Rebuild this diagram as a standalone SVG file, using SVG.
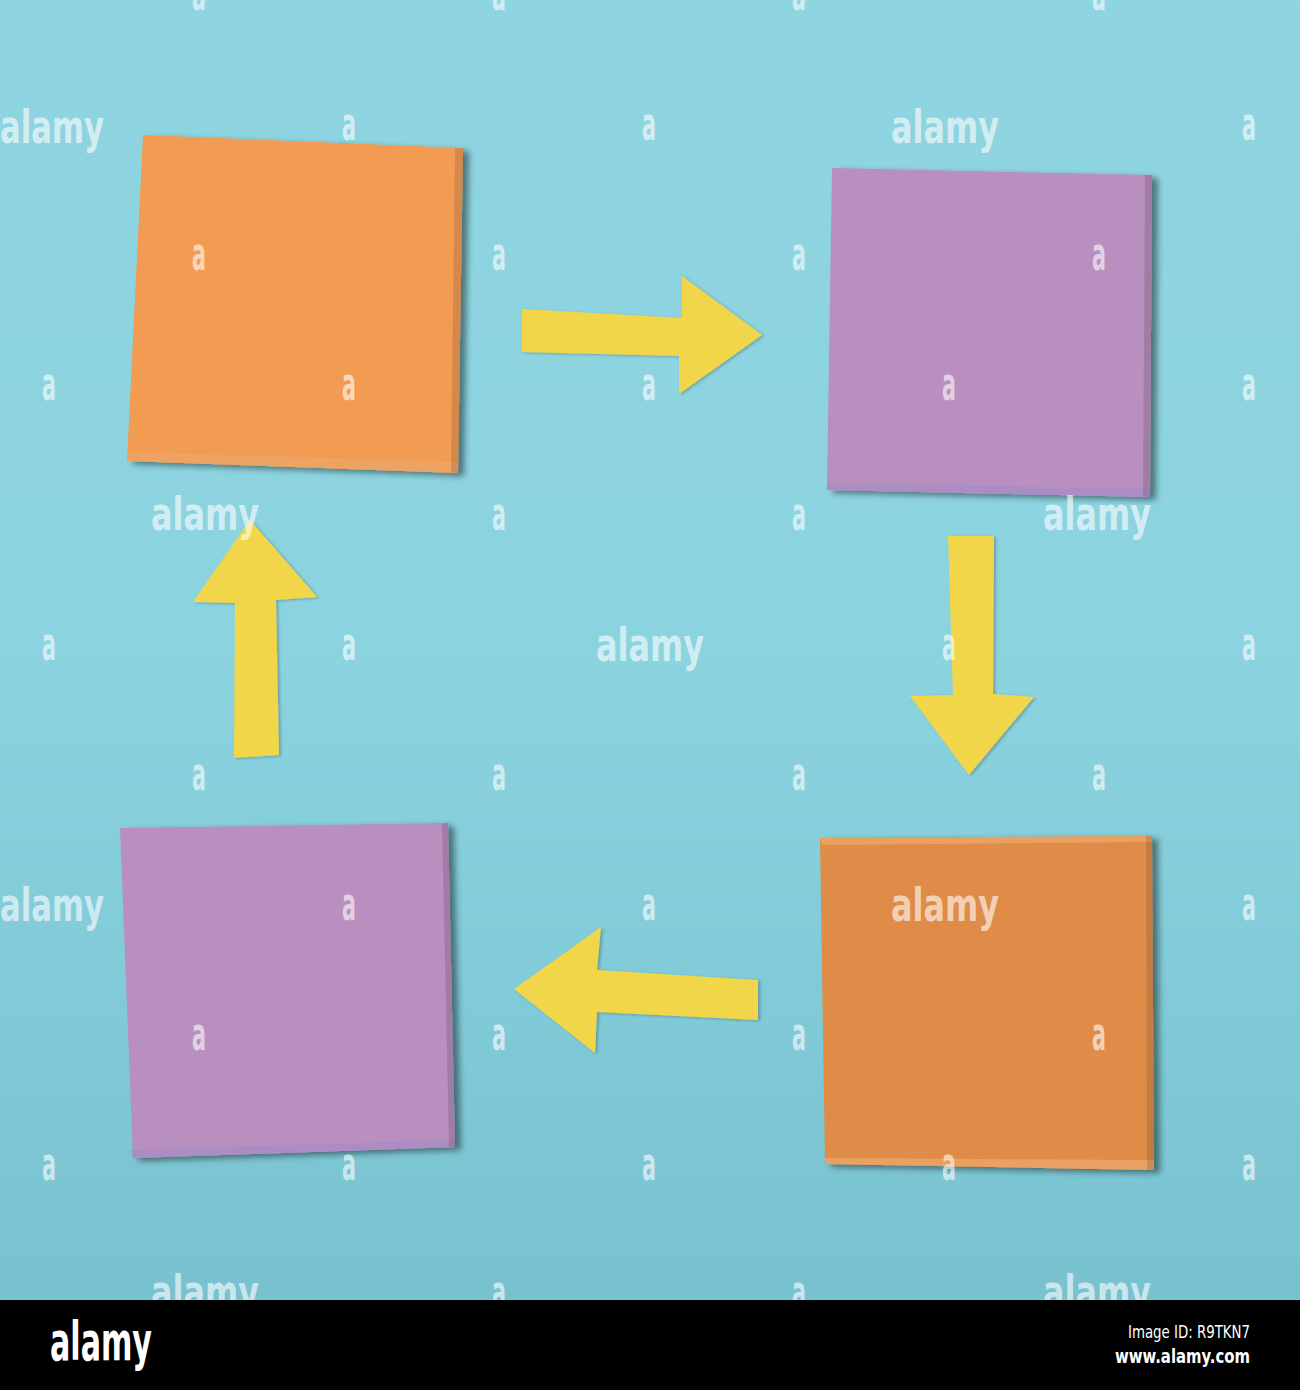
<svg xmlns="http://www.w3.org/2000/svg" width="1300" height="1390" viewBox="0 0 1300 1390">
<defs>
<linearGradient id="bg" x1="0" y1="0" x2="0" y2="1">
<stop offset="0" stop-color="#8fd5e1"/>
<stop offset="0.5" stop-color="#8bd3df"/>
<stop offset="1" stop-color="#78c2d0"/>
</linearGradient>
<filter id="sh" x="-10%" y="-10%" width="125%" height="125%">
<feGaussianBlur in="SourceAlpha" stdDeviation="3"/>
<feOffset dx="6" dy="3" result="b"/>
<feComponentTransfer><feFuncA type="linear" slope="0.45"/></feComponentTransfer>
<feMerge><feMergeNode/><feMergeNode in="SourceGraphic"/></feMerge>
</filter>
<filter id="ash" x="-10%" y="-10%" width="125%" height="125%">
<feGaussianBlur in="SourceAlpha" stdDeviation="1.5"/>
<feOffset dx="2" dy="1"/>
<feComponentTransfer><feFuncA type="linear" slope="0.25"/></feComponentTransfer>
<feMerge><feMergeNode/><feMergeNode in="SourceGraphic"/></feMerge>
</filter>
</defs>
<style>
.orange{fill:#f29b53}
.orange2{fill:#e08c48}
.purple{fill:#b88fbe}
.foldO{fill:#eba566;opacity:0.8}
.foldP{fill:#a98cc4;opacity:0.8}
.edgeDark{fill:#000;opacity:0.12}
.arrow{fill:#f1d64a}
.wm{font-family:"DejaVu Sans Condensed","DejaVu Sans","Liberation Sans",sans-serif;font-weight:bold;font-size:46px;fill:#ffffff;fill-opacity:0.62;text-anchor:middle}
.bar{font-family:"DejaVu Sans Condensed","DejaVu Sans","Liberation Sans",sans-serif;fill:#ffffff}
</style>
<rect x="0" y="0" width="1300" height="1300" fill="url(#bg)"/>

<g id="node-top-left" filter="url(#sh)">
<polygon class="orange" points="143,135 463,148 458,473 127,461"/>
<polygon class="foldO" points="128,452 458,462 458,473 127,461"/>
<polygon class="edgeDark" points="455,148 463,148 458,473 451,472"/>
</g>

<g id="node-top-right" filter="url(#sh)">
<polygon class="purple" points="832,168 1152,175 1150,497 827,490"/>
<polygon class="foldP" points="827,483 1150,489 1150,497 827,490"/>
<polygon class="edgeDark" points="1145,175 1152,175 1150,497 1143,496"/>
</g>

<g id="node-bottom-right" filter="url(#sh)">
<polygon class="orange2" points="820,838 1152,836 1154,1170 825,1164"/>
<polygon class="foldO" points="825,1158 1154,1160 1154,1170 825,1164"/>
<polygon class="foldO" points="820,838 1152,836 1152,842 822,845"/>
<polygon class="edgeDark" points="1146,836 1152,836 1154,1170 1147,1170"/>
</g>

<g id="node-bottom-left" filter="url(#sh)">
<polygon class="purple" points="120,828 448,823 455,1147 133,1158"/>
<polygon class="foldP" points="131,1150 455,1140 455,1147 133,1158"/>
<polygon class="edgeDark" points="442,823 448,823 455,1147 449,1147"/>
</g>

<g id="connectors" filter="url(#ash)">
<polygon id="arrow-right" class="arrow" points="522,309 682,318 682,276 762,335 679,394 679,356 522,352"/>
<polygon id="arrow-down" class="arrow" points="948,536 994,536 993,694 1034,697 969,775 910,696 953,695"/>
<polygon id="arrow-left" class="arrow" points="514,989 601,927 597,970 758,980 758,1020 597,1012 595,1053"/>
<polygon id="arrow-up" class="arrow" points="250,520 317,597 276,600 279,755 234,758 235,603 193,602"/>
</g>

<g id="watermarks" class="wm">
<text x="52" y="143" textLength="104" lengthAdjust="spacingAndGlyphs">alamy</text>
<text x="945" y="143" textLength="108" lengthAdjust="spacingAndGlyphs">alamy</text>
<text x="205" y="530" textLength="108" lengthAdjust="spacingAndGlyphs">alamy</text>
<text x="1097" y="530" textLength="108" lengthAdjust="spacingAndGlyphs">alamy</text>
<text x="650" y="661" textLength="108" lengthAdjust="spacingAndGlyphs">alamy</text>
<text x="52" y="921" textLength="104" lengthAdjust="spacingAndGlyphs">alamy</text>
<text x="945" y="921" textLength="108" lengthAdjust="spacingAndGlyphs">alamy</text>
<text x="205" y="1308" textLength="108" lengthAdjust="spacingAndGlyphs">alamy</text>
<text x="1097" y="1308" textLength="108" lengthAdjust="spacingAndGlyphs">alamy</text>

<text x="199" y="10" textLength="14" lengthAdjust="spacingAndGlyphs">a</text>
<text x="499" y="10" textLength="14" lengthAdjust="spacingAndGlyphs">a</text>
<text x="799" y="10" textLength="14" lengthAdjust="spacingAndGlyphs">a</text>
<text x="1099" y="10" textLength="14" lengthAdjust="spacingAndGlyphs">a</text>

<text x="349" y="140" textLength="14" lengthAdjust="spacingAndGlyphs">a</text>
<text x="649" y="140" textLength="14" lengthAdjust="spacingAndGlyphs">a</text>
<text x="1249" y="140" textLength="14" lengthAdjust="spacingAndGlyphs">a</text>

<text x="199" y="270" textLength="14" lengthAdjust="spacingAndGlyphs">a</text>
<text x="499" y="270" textLength="14" lengthAdjust="spacingAndGlyphs">a</text>
<text x="799" y="270" textLength="14" lengthAdjust="spacingAndGlyphs">a</text>
<text x="1099" y="270" textLength="14" lengthAdjust="spacingAndGlyphs">a</text>

<text x="49" y="400" textLength="14" lengthAdjust="spacingAndGlyphs">a</text>
<text x="349" y="400" textLength="14" lengthAdjust="spacingAndGlyphs">a</text>
<text x="649" y="400" textLength="14" lengthAdjust="spacingAndGlyphs">a</text>
<text x="949" y="400" textLength="14" lengthAdjust="spacingAndGlyphs">a</text>
<text x="1249" y="400" textLength="14" lengthAdjust="spacingAndGlyphs">a</text>

<text x="499" y="530" textLength="14" lengthAdjust="spacingAndGlyphs">a</text>
<text x="799" y="530" textLength="14" lengthAdjust="spacingAndGlyphs">a</text>

<text x="49" y="660" textLength="14" lengthAdjust="spacingAndGlyphs">a</text>
<text x="349" y="660" textLength="14" lengthAdjust="spacingAndGlyphs">a</text>
<text x="949" y="660" textLength="14" lengthAdjust="spacingAndGlyphs">a</text>
<text x="1249" y="660" textLength="14" lengthAdjust="spacingAndGlyphs">a</text>

<text x="199" y="790" textLength="14" lengthAdjust="spacingAndGlyphs">a</text>
<text x="499" y="790" textLength="14" lengthAdjust="spacingAndGlyphs">a</text>
<text x="799" y="790" textLength="14" lengthAdjust="spacingAndGlyphs">a</text>
<text x="1099" y="790" textLength="14" lengthAdjust="spacingAndGlyphs">a</text>

<text x="349" y="920" textLength="14" lengthAdjust="spacingAndGlyphs">a</text>
<text x="649" y="920" textLength="14" lengthAdjust="spacingAndGlyphs">a</text>
<text x="1249" y="920" textLength="14" lengthAdjust="spacingAndGlyphs">a</text>

<text x="199" y="1050" textLength="14" lengthAdjust="spacingAndGlyphs">a</text>
<text x="499" y="1050" textLength="14" lengthAdjust="spacingAndGlyphs">a</text>
<text x="799" y="1050" textLength="14" lengthAdjust="spacingAndGlyphs">a</text>
<text x="1099" y="1050" textLength="14" lengthAdjust="spacingAndGlyphs">a</text>

<text x="49" y="1180" textLength="14" lengthAdjust="spacingAndGlyphs">a</text>
<text x="349" y="1180" textLength="14" lengthAdjust="spacingAndGlyphs">a</text>
<text x="649" y="1180" textLength="14" lengthAdjust="spacingAndGlyphs">a</text>
<text x="949" y="1180" textLength="14" lengthAdjust="spacingAndGlyphs">a</text>
<text x="1249" y="1180" textLength="14" lengthAdjust="spacingAndGlyphs">a</text>

<text x="499" y="1308" textLength="14" lengthAdjust="spacingAndGlyphs">a</text>
<text x="799" y="1308" textLength="14" lengthAdjust="spacingAndGlyphs">a</text>
</g>

<g id="footer">
<rect x="0" y="1300" width="1300" height="90" fill="#000000"/>
<text class="bar" x="50" y="1360" font-size="54" font-weight="bold" textLength="102" lengthAdjust="spacingAndGlyphs">alamy</text>
<text class="bar" x="1250" y="1338" font-size="17" text-anchor="end" textLength="122" lengthAdjust="spacingAndGlyphs">Image ID: R9TKN7</text>
<text class="bar" x="1250" y="1363" font-size="20" font-weight="bold" text-anchor="end" textLength="135" lengthAdjust="spacingAndGlyphs">www.alamy.com</text>
</g>
</svg>
